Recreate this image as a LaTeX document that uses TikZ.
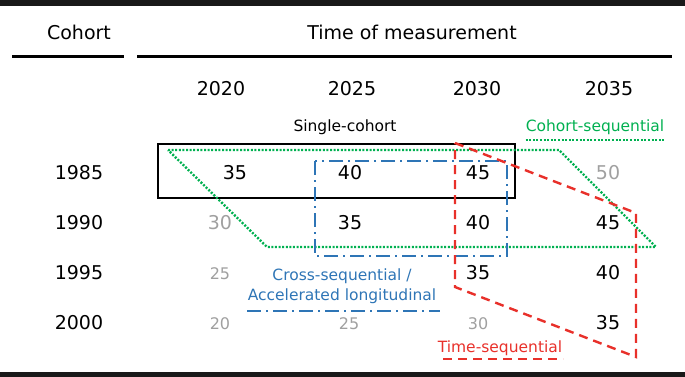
\documentclass[tikz,border=0pt]{standalone}
\usepackage{fontspec}
\setmainfont{DejaVu Sans}
\definecolor{cgreen}{RGB}{0,176,80}
\definecolor{cblue}{RGB}{46,117,182}
\definecolor{cred}{RGB}{232,48,42}
\definecolor{cgray}{RGB}{160,160,160}
\begin{document}
\begin{tikzpicture}[x=1pt,y=-1pt,
  hd/.style={font=\fontsize{19}{22}\selectfont,inner sep=0pt},
  val/.style={font=\fontsize{19}{22}\selectfont,inner sep=0pt},
  gval/.style={font=\fontsize{19}{22}\selectfont,inner sep=0pt,text=cgray},
  sgval/.style={font=\fontsize{16}{19}\selectfont,inner sep=0pt,text=cgray},
  lab/.style={font=\fontsize{15.5}{19}\selectfont,inner sep=0pt},
  gdot/.style={cgreen,line width=2.4pt,dash pattern=on 2pt off 1.6pt},
  bdd/.style={cblue,line width=2.4pt,dash pattern=on 14pt off 5pt on 2pt off 5pt},
  rdash/.style={cred,line width=2.4pt,dash pattern=on 9pt off 6pt}]
\useasboundingbox (0,0) rectangle (685,377);
\fill[black!90] (0,0) rectangle (685,6);
\fill[black!90] (0,372) rectangle (685,377);
\draw[line width=3pt] (12,57) -- (124,57);
\draw[line width=3pt] (137,57) -- (672,57);
\node[hd] (cohort) at (79,32) {Cohort};
\node[hd] (time) at (412,32) {Time of measurement};
\node[hd] (y2020) at (221,89) {2020};
\node[hd] (y2025) at (352,89) {2025};
\node[hd] (y2030) at (477,89) {2030};
\node[hd] (y2035) at (609,89) {2035};
\node[hd] (c1985) at (79,173) {1985};
\node[hd] (c1990) at (79,223) {1990};
\node[hd] (c1995) at (79,273) {1995};
\node[hd] (c2000) at (79,323) {2000};
% values
\node[val] (v11) at (235,173) {35};
\node[val] (v12) at (350,173) {40};
\node[val] (v13) at (478,173) {45};
\node[gval] (v14) at (608,173) {50};
\node[gval] (v21) at (220,223) {30};
\node[val] (v22) at (350,223) {35};
\node[val] (v23) at (478,223) {40};
\node[val] (v24) at (608,223) {45};
\node[sgval] (v31) at (220,274) {25};
\node[val] (v33) at (478,273) {35};
\node[val] (v34) at (608,273) {40};
\node[sgval] (v41) at (220,324) {20};
\node[sgval] (v42) at (349,324) {25};
\node[sgval] (v43) at (478,324) {30};
\node[val] (v44) at (608,323) {35};
% single cohort
\draw[line width=2pt] (158,144) rectangle (515,198);
\node[lab] (single) at (345,127) {Single-cohort};
% cohort-sequential
\draw[gdot] (168,150) -- (559,150) -- (656,247) -- (267,247) -- cycle;
\node[lab,text=cgreen] (cseq) at (595,127) {Cohort-sequential};
\draw[gdot] (cseq.south west) ++(0,5) coordinate (cs1) (cseq.south east) ++(0,5) coordinate (cs2);
\draw[gdot] (cs1) -- (cs2);
% cross-sequential
\draw[bdd] (315,161) rectangle (507,256);
\node[lab,text=cblue,align=center] (cross) at (342,286) {Cross-sequential /\\[1pt]Accelerated longitudinal};
\coordinate (cr1) at (247,311);
\coordinate (cr2) at (440,311);
\draw[bdd] (cr1) -- (cr2);
% time-sequential
\draw[rdash] (455,143) -- (636,213) -- (636,357) -- (455,287) -- cycle;
\node[lab,text=cred] (tseq) at (500,348) {Time-sequential};
\coordinate (ts1) at (443,359);
\coordinate (ts2) at (563,359);
\draw[rdash] (ts1) -- (ts2);
\end{tikzpicture}
\end{document}
